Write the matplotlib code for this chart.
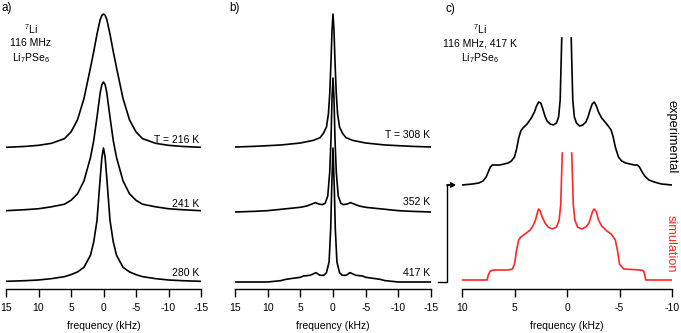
import numpy as np
import matplotlib
matplotlib.use('Agg')
import matplotlib.pyplot as plt
from matplotlib.lines import Line2D

plt.rcParams['font.family'] = ['Liberation Sans', 'DejaVu Sans']
plt.rcParams['mathtext.fontset'] = 'custom'
plt.rcParams['mathtext.rm'] = 'Liberation Sans'
plt.rcParams['axes.unicode_minus'] = False
plt.rcParams['font.size'] = 7.5

nan = np.nan

# panel a: static 7Li spectra (normalised intensity)
fa = [15, 12, 10, 8, 6, 5, 4, 3, 2, 1.5, 1, 0.5, 0.25, 0,
      -0.25, -0.5, -1, -1.5, -2, -3, -4, -5, -6, -8, -10, -12, -15]
a_216 = [0.005, 0.012, 0.02, 0.035, 0.07, 0.12, 0.21, 0.37, 0.60, 0.72, 0.85, 0.96, 0.99, 1.0,
         0.99, 0.96, 0.85, 0.72, 0.60, 0.37, 0.21, 0.12, 0.07, 0.035, 0.02, 0.012, 0.005]
a_241 = [0.01, 0.018, 0.025, 0.04, 0.06, 0.09, 0.14, 0.24, 0.42, 0.55, 0.73, 0.92, 0.98, 1.0,
         0.98, 0.92, 0.73, 0.55, 0.42, 0.24, 0.14, 0.09, 0.06, 0.04, 0.025, 0.018, 0.01]
a_280 = [0.005, 0.01, 0.015, 0.025, 0.04, 0.055, 0.075, 0.11, 0.20, 0.30, 0.46, 0.78, 0.93, 1.0,
         0.93, 0.78, 0.46, 0.30, 0.20, 0.11, 0.075, 0.055, 0.04, 0.025, 0.015, 0.01, 0.005]

# panel b
f_308 = [15, 12, 10, 8, 6, 5, 4, 3, 2, 1.5, 1, 0.7, 0.5, 0.3, 0.15, 0,
         -0.15, -0.3, -0.5, -0.7, -1, -1.5, -2, -3, -4, -5, -6, -8, -10, -12, -15]
b_308 = [0.0, 0.005, 0.01, 0.015, 0.025, 0.03, 0.04, 0.05, 0.07, 0.10, 0.15, 0.25, 0.40, 0.65, 0.88, 1.0,
         0.88, 0.65, 0.40, 0.25, 0.15, 0.10, 0.07, 0.05, 0.04, 0.03, 0.025, 0.015, 0.01, 0.005, 0.0]
f_352 = [15, 12, 10, 8, 6, 5, 4, 3.2, 2.7, 2.2, 1.6, 1.2, 0.8, 0.5, 0.3, 0.15, 0,
         -0.15, -0.3, -0.5, -0.8, -1.2, -1.6, -2.2, -2.7, -3.2, -4, -5, -6, -8, -10, -12, -15]
b_352 = [0.0, 0.005, 0.01, 0.02, 0.03, 0.035, 0.045, 0.06, 0.07, 0.06, 0.055, 0.065, 0.12, 0.30, 0.55, 0.85, 1.0,
         0.85, 0.55, 0.30, 0.12, 0.065, 0.055, 0.06, 0.07, 0.06, 0.045, 0.035, 0.03, 0.02, 0.01, 0.005, 0.0]
f_417 = [15, 10, 8, 7.2, 6.5, 5, 4.5, 3.5, 2.6, 2.0, 1.4, 1.0, 0.6, 0.35, 0.2, 0,
         -0.2, -0.35, -0.6, -1.0, -1.4, -2.0, -2.6, -3.5, -4.5, -5, -6.5, -7.2, -8, -10, -15]
b_417 = [0.0, 0.0, 0.01, 0.02, 0.025, 0.035, 0.045, 0.05, 0.07, 0.05, 0.05, 0.07, 0.15, 0.40, 0.70, 1.0,
         0.70, 0.40, 0.15, 0.07, 0.05, 0.05, 0.07, 0.05, 0.045, 0.035, 0.025, 0.02, 0.01, 0.0, 0.0]

# panel c: 417 K, central line cut off
exp_freq = [10, 9, 8.4, 8.0, 7.7, 7.5, 7.3, 7.1, 6.8, 6.4, 6.0, 5.6, 5.3, 5.0, 4.8, 4.6, 4.4, 4.2,
            3.8, 3.4, 3.1, 2.9, 2.7, 2.5, 2.3, 2.1, 1.9, 1.6, 1.3, 1.0, 0.8, 0.65, 0.5,
            nan,
            -0.4, -0.55, -0.7, -0.9, -1.2, -1.5, -1.8, -2.0, -2.2, -2.4, -2.6, -2.8, -3.0, -3.3,
            -3.7, -4.0, -4.2, -4.4, -4.6, -4.9, -5.2, -5.6, -6.0, -6.4, -6.7, -6.9, -7.1, -7.4,
            -7.8, -8.3, -9, -10]
exp_int = [0, 1, 2, 4, 8, 13, 18, 20, 20, 20, 21, 22, 24, 28, 36, 47, 54, 57,
           61, 67, 73, 79, 83, 82, 76, 69, 64, 61, 60, 62, 68, 85, 147,
           nan,
           147, 85, 68, 62, 59, 60, 63, 68, 75, 81, 83, 79, 73, 67,
           62, 58, 55, 48, 38, 28, 24, 22, 21, 20, 20, 18, 14, 9,
           5, 3, 1, 0]
sim_freq = [10, 7.6, 7.5, 7.3, 7.0, 5.6, 5.2, 5.0, 4.8, 4.6, 4.4, 4.0, 3.5, 3.2, 3.0, 2.8, 2.7,
            2.55, 2.4, 2.1, 1.8, 1.4, 1.0, 0.75, 0.6, 0.45,
            nan,
            -0.45, -0.6, -0.75, -1.0, -1.4, -1.8, -2.1, -2.3, -2.45, -2.6, -2.8, -3.0, -3.3, -3.8,
            -4.2, -4.4, -4.6, -4.8, -5.0, -5.4, -7.0, -7.3, -7.4, -7.5, -10]
sim_int = [0, 0, 5, 9, 10, 10, 11, 16, 30, 40, 43, 46, 50, 55, 60, 68, 71,
           69, 64, 57, 53, 51, 53, 60, 75, 127,
           nan,
           127, 75, 60, 53, 51, 53, 57, 64, 69, 71, 68, 60, 54, 49,
           46, 43, 40, 30, 16, 11, 10, 9, 5, 0, 0]

W, H = 681, 333
fig = plt.figure(figsize=(W / 100, H / 100), dpi=100)
red = '#ff2626'
lw = 1.2


def make_axes(x0, x1, lim, ticks):
    ax = fig.add_axes([x0 / W, (H - 289) / H, (x1 - x0) / W, 279 / H])
    ax.set_xlim(lim, -lim)
    ax.set_ylim(0, 279)
    for s in ['top', 'left', 'right']:
        ax.spines[s].set_visible(False)
    ax.spines['bottom'].set_linewidth(1.0)
    ax.set_yticks([])
    ax.set_xticks(ticks)
    ax.tick_params(axis='x', direction='out', length=6, width=1.0, pad=4, labelsize=7.5)
    ax.set_xlabel('frequency (kHz)', labelpad=6, fontsize=7.5)
    ax.patch.set_visible(False)
    return ax


def ftext(x, y, s, **kw):
    fig.text(x / W, 1 - y / H, s, **kw)


axa = make_axes(6, 201, 15, [15, 10, 5, 0, -5, -10, -15])
axa.plot(fa, 141 + 134 * np.array(a_216), color='k', lw=lw)
axa.plot(fa, 77 + 130 * np.array(a_241), color='k', lw=lw)
axa.plot(fa, 7 + 134 * np.array(a_280), color='k', lw=lw)

axb = make_axes(235, 431, 15, [15, 10, 5, 0, -5, -10, -15])
axb.plot(f_308, 142 + 133 * np.array(b_308), color='k', lw=lw)
axb.plot(f_352, 77 + 134 * np.array(b_352), color='k', lw=lw)
axb.plot(f_417, 7 + 134 * np.array(b_417), color='k', lw=lw)

axc = make_axes(462, 672, 10, [10, 5, 0, -5, -10])
axc.plot(exp_freq, 104 + np.array(exp_int), color='k', lw=lw)
axc.plot(sim_freq, 9 + np.array(sim_int), color=red, lw=lw)

# panel letters
ftext(1, 8, 'a)', fontsize=8.5, va='center')
ftext(229, 8, 'b)', fontsize=8.5, va='center')
ftext(446, 9, 'c)', fontsize=8.5, va='center')

# sample info
for y, s in [(29, r'$\mathregular{^7}$Li'), (43, '116 MHz'), (58, r'Li$\mathregular{_7}$PSe$\mathregular{_6}$')]:
    ftext(31, y, s, ha='center', va='center')
for y, s in [(29, r'$\mathregular{^7}$Li'), (43, '116 MHz, 417 K'), (58, r'Li$\mathregular{_7}$PSe$\mathregular{_6}$')]:
    ftext(480, y, s, ha='center', va='center')

# temperatures
ftext(199, 140, 'T = 216 K', ha='right', va='center')
ftext(199, 204, '241 K', ha='right', va='center')
ftext(199, 273, '280 K', ha='right', va='center')
ftext(430, 135, 'T = 308 K', ha='right', va='center')
ftext(430, 202, '352 K', ha='right', va='center')
ftext(430, 273, '417 K', ha='right', va='center')

ftext(671, 137, 'experimental', rotation=270, ha='center', va='center', fontsize=9.2)
ftext(671, 244, 'simulation', rotation=270, ha='center', va='center', fontsize=9.2, color=red)

# bracket from 417 K to panel c
xs = np.array([438, 447, 447]) / W
ys = 1 - np.array([282, 282, 185]) / H
fig.add_artist(Line2D(xs, ys, transform=fig.transFigure, color='k', lw=1.0))
fig.add_artist(plt.annotate('', xy=(456, H - 185), xytext=(447, H - 185),
                            xycoords='figure pixels', textcoords='figure pixels',
                            arrowprops=dict(arrowstyle='->', lw=1.0, color='k',
                                            shrinkA=0, shrinkB=0, mutation_scale=7)))

fig.savefig('out.png', dpi=100)
